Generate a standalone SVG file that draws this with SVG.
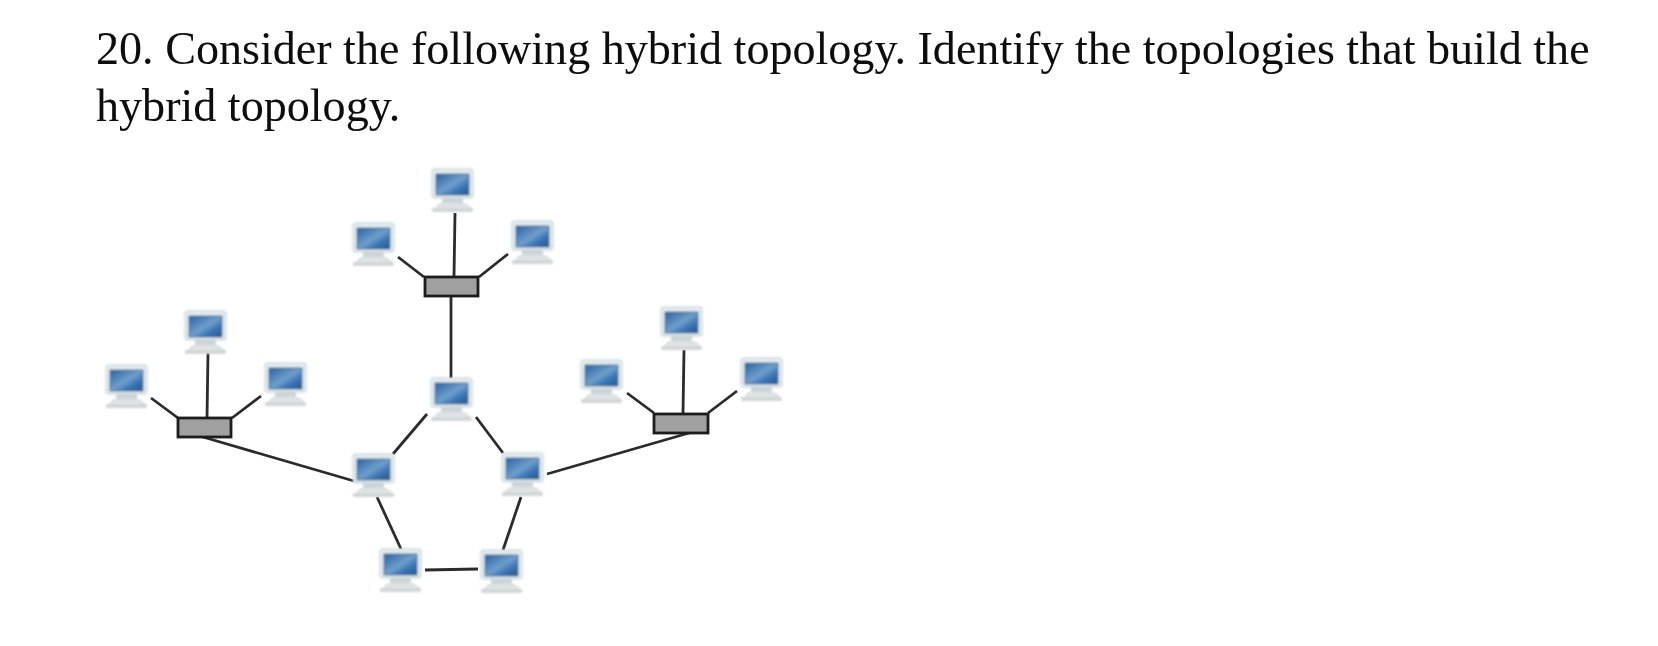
<svg xmlns="http://www.w3.org/2000/svg" width="1658" height="646" viewBox="0 0 1658 646">
<style>
text{font-family:"Liberation Serif","Times New Roman",serif;font-size:46.1px;fill:#0a0a0a;filter:url(#t)}
.c line{stroke:#2b2b2b;stroke-width:2.8;stroke-linecap:butt}
.hub{fill:#a0a0a0;stroke:#1c1c1c;stroke-width:2.8}
</style>
<defs>
<filter id="t" x="-2%" y="-20%" width="104%" height="140%"><feGaussianBlur stdDeviation=".4"/></filter>
<linearGradient id="s" x1="0" y1="0" x2="1" y2="1"><stop offset="0" stop-color="#2a62a4"/><stop offset=".5" stop-color="#6f9ecb"/><stop offset=".72" stop-color="#3a74b4"/><stop offset="1" stop-color="#24578f"/></linearGradient>
<filter id="b" x="-10%" y="-10%" width="120%" height="120%"><feGaussianBlur stdDeviation=".8"/></filter>
<g id="pc" filter="url(#b)">
<rect x="0" y="0" width="41" height="29" rx="2" fill="#e3ecf1" stroke="#bccdd7" stroke-width="1"/>
<rect x="4" y="5" width="33" height="21" fill="url(#s)" stroke="#3f5c75" stroke-width=".8"/>
<rect x="10" y="29" width="21" height="5" fill="#ccd4d8"/>
<path d="M3 40L7 35H34L40 40Z" fill="#e0e5e7" stroke="#b9c1c4" stroke-width=".7"/>
<rect x="0" y="39" width="41" height="4" rx="1" fill="#d2d6d8"/>
</g>
</defs>
<text x="96" y="64">20. Consider the following hybrid topology. Identify the topologies that build the</text>
<text x="96" y="121">hybrid topology.</text>
<g class="c" id="connectors">
<line x1="455" y1="213" x2="454" y2="277"/><line x1="398" y1="257" x2="424" y2="277"/><line x1="508" y1="254" x2="479" y2="277"/>
<line x1="451" y1="296" x2="451" y2="378"/>
<line x1="208" y1="353" x2="207" y2="418"/><line x1="151" y1="398" x2="178" y2="418"/><line x1="261" y1="396" x2="232" y2="418"/>
<line x1="684" y1="350" x2="683" y2="413"/><line x1="627" y1="393" x2="654" y2="413"/><line x1="737" y1="391" x2="708" y2="413"/>
<line x1="203" y1="437" x2="354" y2="481"/><line x1="547" y1="474" x2="689" y2="433"/>
<line x1="393" y1="454" x2="427" y2="414"/><line x1="476" y1="417" x2="503" y2="453"/>
<line x1="377" y1="497" x2="401" y2="549"/><line x1="521" y1="497" x2="503" y2="550"/><line x1="425" y1="570" x2="478" y2="569"/>
</g>
<g id="pc-top"><use href="#pc" x="432" y="169"/></g>
<g id="pc-top-left"><use href="#pc" x="353" y="223"/></g>
<g id="pc-top-right"><use href="#pc" x="512" y="221"/></g>
<g id="pc-left-top"><use href="#pc" x="185" y="311"/></g>
<g id="pc-left-left"><use href="#pc" x="106" y="365"/></g>
<g id="pc-left-right"><use href="#pc" x="265" y="363"/></g>
<g id="pc-right-top"><use href="#pc" x="661" y="307"/></g>
<g id="pc-right-left"><use href="#pc" x="581" y="360"/></g>
<g id="pc-right-right"><use href="#pc" x="741" y="358"/></g>
<g id="pc-ring-top"><use href="#pc" x="431" y="378"/></g>
<g id="pc-ring-left"><use href="#pc" x="353" y="454"/></g>
<g id="pc-ring-right"><use href="#pc" x="502" y="453"/></g>
<g id="pc-ring-bottom-left"><use href="#pc" x="380" y="549"/></g>
<g id="pc-ring-bottom-right"><use href="#pc" x="481" y="550"/></g>
<g id="hub-top"><rect class="hub" x="425" y="277" width="53" height="19"/></g>
<g id="hub-left"><rect class="hub" x="178" y="418" width="53" height="19"/></g>
<g id="hub-right"><rect class="hub" x="654" y="414" width="54" height="19"/></g>
</svg>
